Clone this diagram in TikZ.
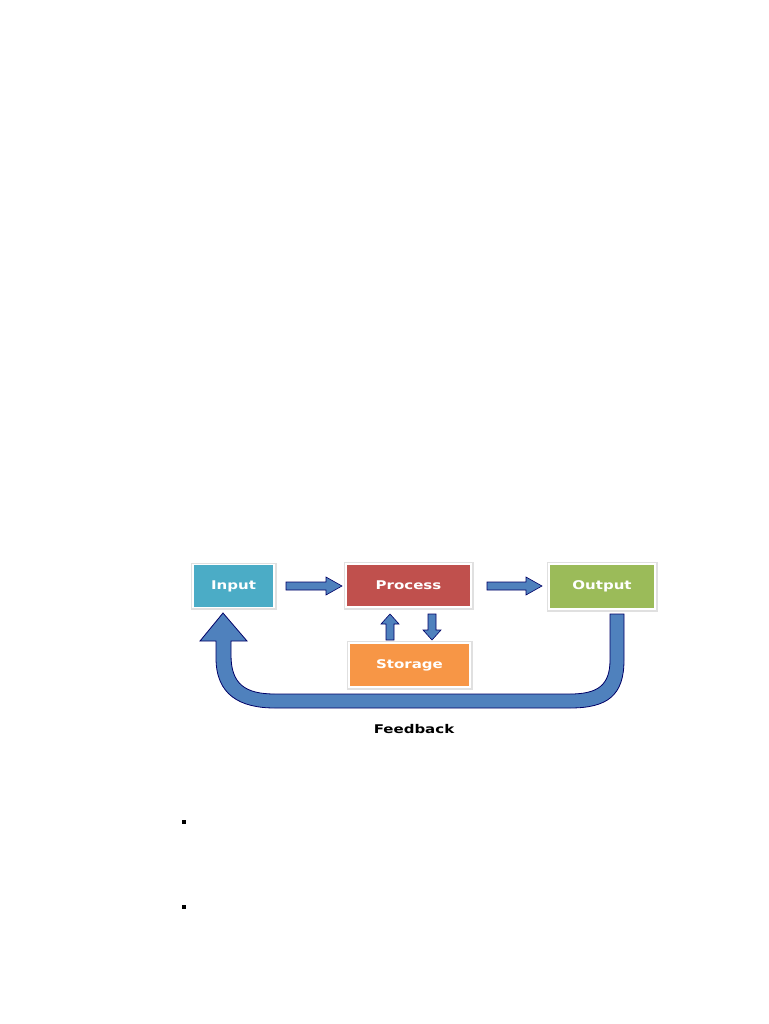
\documentclass[tikz,border=0pt]{standalone}
\usepackage{fontspec}
\setmainfont{DejaVu Sans}
\begin{document}
\begin{tikzpicture}[x=1pt,y=-1pt,
  box/.style={draw=white,line width=1.5pt,minimum width=#1,minimum height=43pt,inner sep=0pt,text=white,font=\bfseries\fontsize{12}{14}\selectfont},
  flow/.style={draw=blue!40!black,fill=arrowblue,line width=0.6pt}]
\definecolor{arrowblue}{HTML}{4F81BD}
\definecolor{cin}{HTML}{4BACC6}
\definecolor{cproc}{HTML}{C0504D}
\definecolor{cout}{HTML}{9BBB59}
\definecolor{csto}{HTML}{F79646}
\useasboundingbox (0,0) rectangle (768,1024);
\fill[white] (0,0) rectangle (768,1024);
\begin{scope}[every node/.append style={drop shadow/.style={}}]
\fill[black!12] (191,563) rectangle (277,610);
\fill[black!12] (344,562) rectangle (474,610);
\fill[black!12] (547,562) rectangle (658,612);
\fill[black!12] (347,641) rectangle (473,690);
\end{scope}
\node[box=81pt,fill=cin] (in) at (233.5,586) {\scalebox{1.25}[1]{Input}};
\node[box=125pt,fill=cproc] (pr) at (408.5,585.5) {\scalebox{1.25}[1]{Process}};
\node[box=106pt,minimum height=45pt,fill=cout] (out) at (602,586.5) {\scalebox{1.25}[1]{Output}};
\node[box=121pt,minimum height=44pt,fill=csto] (st) at (409.5,665) {\scalebox{1.25}[1]{Storage}};
% horizontal arrows
\draw[flow] (286,582) -- (326,582) -- (326,577) -- (342,586) -- (326,595) -- (326,590) -- (286,590) -- cycle;
\draw[flow] (487,582) -- (526,582) -- (526,577) -- (542,586) -- (526,595) -- (526,590) -- (487,590) -- cycle;
% vertical arrows
\draw[flow] (386,640) -- (386,624) -- (381,624) -- (390,614) -- (399,624) -- (394,624) -- (394,640) -- cycle;
\draw[flow] (428,614) -- (428,630) -- (423,630) -- (432,640) -- (441,630) -- (436,630) -- (436,614) -- cycle;
% feedback
\draw[flow,line width=0.8pt]
  (610,614) -- (610,660) .. controls (610,685) and (598,694) .. (570,694) -- (275,694)
  .. controls (245,694) and (231,684) .. (231,655) -- (231,641) -- (247,641) -- (223,613) -- (200,641) -- (216,641)
  -- (216,658) .. controls (216,695) and (240,708) .. (275,708) -- (570,708)
  .. controls (608,708) and (624,695) .. (624,660) -- (624,614) -- cycle;
\node[font=\bfseries\fontsize{12}{14}\selectfont] (fb) at (414,729) {\scalebox{1.25}[1]{Feedback}};
\fill (182,820) rectangle (186,824);
\fill (182,905) rectangle (186,909);
\end{tikzpicture}
\end{document}
